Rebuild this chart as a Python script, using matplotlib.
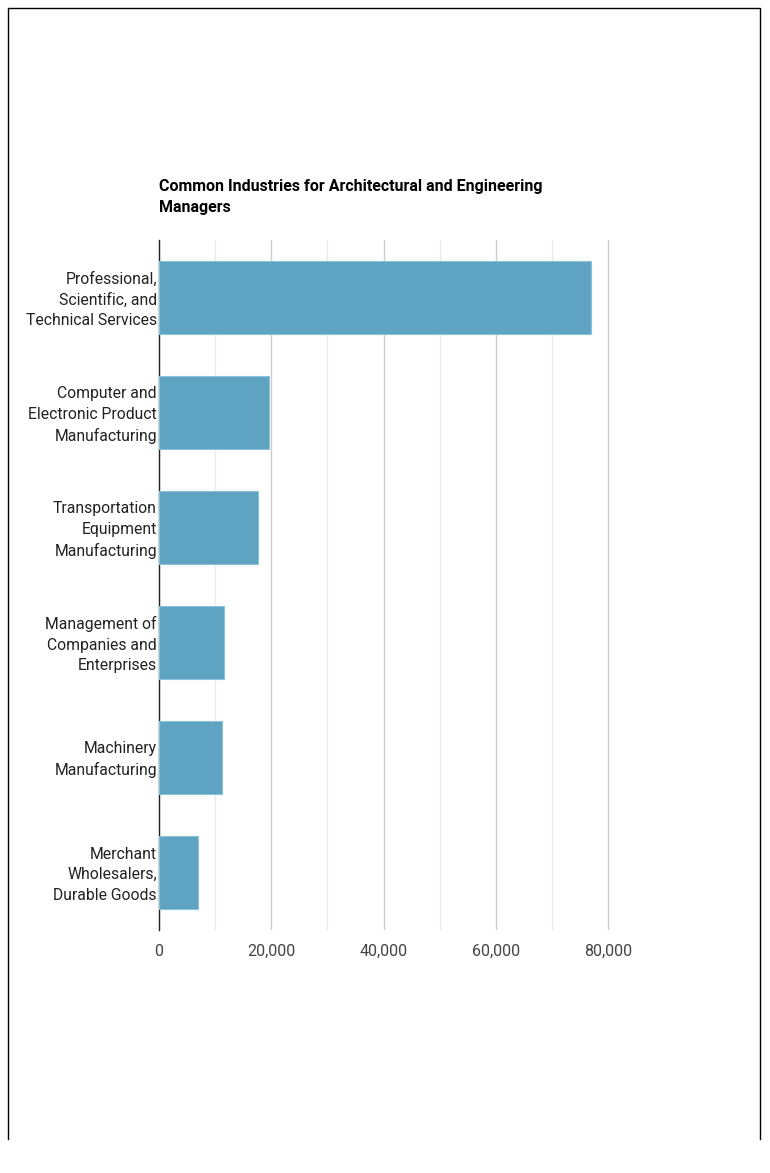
import numpy as np
import matplotlib.pyplot as plt
import matplotlib.transforms as mtransforms
from matplotlib.lines import Line2D
from matplotlib.ticker import FuncFormatter, MultipleLocator

plt.rcParams['font.family'] = ['Roboto', 'DejaVu Sans']

industries = ['Professional,\nScientific, and\nTechnical Services',
              'Computer and\nElectronic Product\nManufacturing',
              'Transportation\nEquipment\nManufacturing',
              'Management of\nCompanies and\nEnterprises',
              'Machinery\nManufacturing',
              'Merchant\nWholesalers,\nDurable Goods']
employment = [77040, 19600, 17640, 11580, 11230, 6950]
title = 'Common Industries for Architectural and Engineering\nManagers'

W, H = 770, 1173
x_max = 81000
ax_w = 449 * x_max / 80000
fig = plt.figure(figsize=(W/100, H/100), dpi=100)
ax = fig.add_axes([159/W, 1-930/H, ax_w/W, 690/H])

y = np.arange(len(industries))
ax.barh(y, employment, height=0.63, color='#5ea3c1', edgecolor='#8cc3da', linewidth=0.8, zorder=3)
ax.set_ylim(len(industries)-0.5, -0.5)
ax.set_xlim(0, x_max)

ax.xaxis.set_major_locator(MultipleLocator(20000))
ax.xaxis.set_minor_locator(MultipleLocator(10000))
ax.xaxis.set_major_formatter(FuncFormatter(lambda v, p: f'{int(v):,}'))
ax.grid(axis='x', which='major', color='#cccccc', linewidth=1, zorder=0)
ax.grid(axis='x', which='minor', color='#ebebeb', linewidth=1, zorder=0)
ax.set_axisbelow(True)

ax.set_yticks(y)
ax.set_yticklabels(industries, fontsize=11.3, color='#222222', linespacing=1.45)
ax.tick_params(axis='y', length=0, pad=1.5)
ax.tick_params(axis='x', which='both', length=0, pad=10, labelsize=11.5, labelcolor='#444444')
# nudge the category labels up a touch
shift = mtransforms.ScaledTranslation(0, 2/100, fig.dpi_scale_trans)
for lab in ax.get_yticklabels():
    lab.set_transform(lab.get_transform() + shift)

for s in ['top', 'right', 'bottom']:
    ax.spines[s].set_visible(False)
ax.spines['left'].set_color('#222222')
ax.spines['left'].set_linewidth(1)

fig.text(159/W, 1-179/H, title, fontsize=11.5, fontweight='bold', color='black',
         ha='left', va='top', linespacing=1.5)

# page frame (open at the bottom)
fx = [8/W, 8/W, 760/W, 760/W]
fy = [1-1139/H, 1-8/H, 1-8/H, 1-1139/H]
fig.add_artist(Line2D(fx, fy, color='black', linewidth=1, transform=fig.transFigure))

fig.savefig('out.png', dpi=100, facecolor='white')
